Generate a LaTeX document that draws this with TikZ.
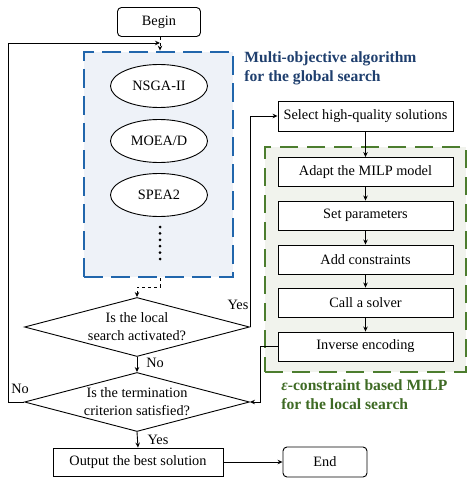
\documentclass[tikz,border=0pt]{standalone}
\usepackage{fontspec}
\setmainfont{Liberation Serif}
\usetikzlibrary{shapes.geometric,arrows.meta}
\definecolor{gblue}{HTML}{2166AC}
\definecolor{gbluefill}{HTML}{EEF2F8}
\definecolor{gbluetxt}{HTML}{1F3F6E}
\definecolor{lgreen}{HTML}{4C7D2E}
\definecolor{lgreenfill}{HTML}{F1F3ED}
\definecolor{lgreentxt}{HTML}{3E6A24}
\begin{document}
\begin{tikzpicture}[x=1pt,y=-1pt,
  font=\fontsize{14.3}{18}\selectfont,
  line width=0.9pt,
  arr/.style={-{Stealth[length=5pt,width=4.5pt]}},
  box/.style={draw, fill=white, minimum width=175, minimum height=29, inner sep=0pt},
  rbox/.style={draw, fill=white, rounded corners=4pt, inner sep=0pt},
  ell/.style={draw, fill=white, ellipse, minimum width=97, minimum height=43, inner sep=0pt},
  dia/.style={draw, fill=white, diamond, aspect=3.8, inner sep=0pt, align=center, minimum width=225, minimum height=59},
  bluebox/.style={draw=gblue, fill=gbluefill, line width=2.8pt, dash pattern=on 19pt off 8pt, inner sep=0pt},
  greenbox/.style={draw=lgreen, fill=lgreenfill, line width=2.8pt, dash pattern=on 18pt off 9pt, inner sep=0pt},
  title/.style={font=\fontsize{15.6}{19}\selectfont\bfseries, align=left, anchor=west, inner sep=0pt},
  lab/.style={inner sep=0pt}
]
\useasboundingbox (0,0) rectangle (474,484);
% containers
\node[bluebox, minimum width=149, minimum height=225] (gbox) at (158.5,164.5) {};
\node[greenbox, minimum width=201, minimum height=225] (lbox) at (365.5,259.5) {};
% nodes
\node[rbox, minimum width=83, minimum height=29] (begin) at (159,22) {Begin};
\node[ell] (nsga) at (159,86) {NSGA-II};
\node[ell] (moea) at (159,141) {MOEA/D};
\node[ell] (spea) at (159,195) {SPEA2};
\foreach \i in {0,...,5} {\fill (160,{227+6.4*\i}) circle (1.5pt);}
\node[dia] (d1) at (137,327) {Is the local\\search activated?};
\node[dia] (d2) at (137,402) {Is the termination\\criterion satisfied?};
\node[box, minimum width=170, minimum height=28] (out) at (138,462) {Output the best solution};
\node[rbox, minimum width=84, minimum height=30] (end) at (325,462) {End};
\node[box, minimum height=30] (sel) at (365.5,116) {Select high-quality solutions};
\node[box] (adapt) at (365.5,172) {Adapt the MILP model};
\node[box] (setp) at (365.5,215.5) {Set parameters};
\node[box] (addc) at (365.5,259.5) {Add constraints};
\node[box] (call) at (365.5,302.5) {Call a solver};
\node[box] (inv) at (365.5,346.5) {Inverse encoding};
% titles
\node[title, text=gbluetxt] (gt) at (244,68.5) {Multi-objective algorithm\\for the global search};
\node[title, text=lgreentxt] (lt) at (281,394.5) {\textit{ε}-constraint based MILP\\for the local search};
% labels
\node[lab] (yes1) at (238,305) {Yes};
\node[lab] (no1) at (155,363) {No};
\node[lab] (no2) at (20,389) {No};
\node[lab] (yes2) at (158,440) {Yes};
% connectors
\coordinate (lp) at (160,43);
\draw[arr, dashed, line width=0.8pt] (begin.south -| 160,0) -- (gbox.north -| 160,0);
\draw[arr] (d2.west) -- (8,402) -- (8,43) -- (lp);
\draw[arr, dashed, line width=0.8pt] (gbox.south -| 160,0) -- (160,287) -| (d1.north);
\draw[arr] (d1.east) |- (sel.west);
\draw[arr] (sel) -- (adapt);
\draw[arr] (adapt) -- (setp);
\draw[arr] (setp) -- (addc);
\draw[arr] (addc) -- (call);
\draw[arr] (call) -- (inv);
\draw[arr] (inv.west) -- (260,346.5) |- (d2.east);
\draw[arr] (d1.south) -- (d2.north);
\draw[arr] (d2.south) -- (out.north);
\draw[arr] (out.east) -- (end.west);
\end{tikzpicture}
\end{document}
